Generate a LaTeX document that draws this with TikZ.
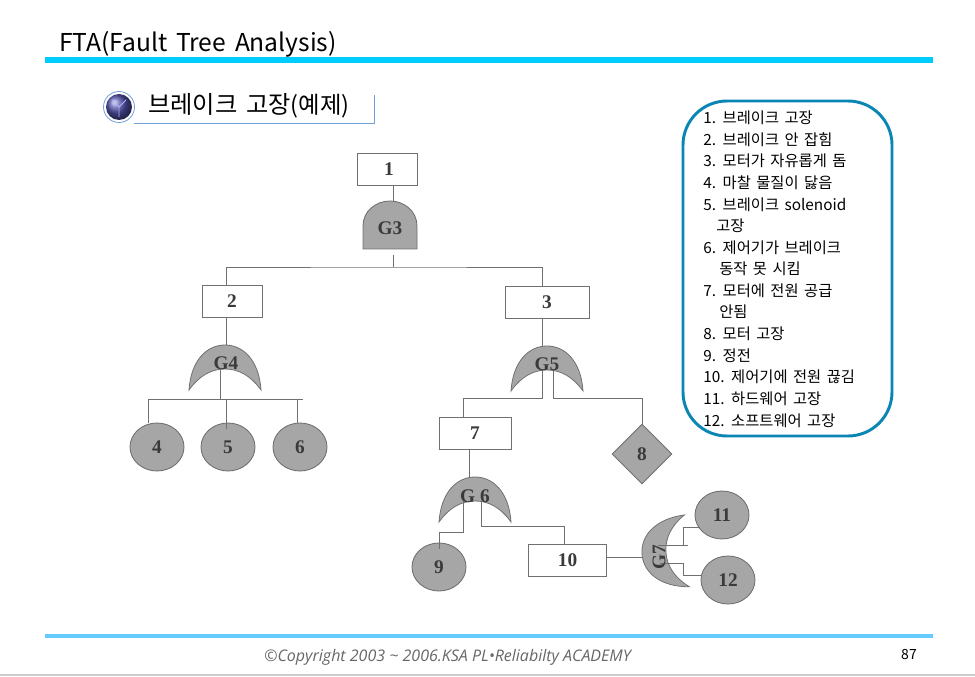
\documentclass[tikz,border=0pt]{standalone}
\usepackage{fontspec}
\setmainfont{Noto Sans CJK KR}[WordSpace=1.6]
\newfontfamily\labelfont{Liberation Serif}
\newfontfamily\footfont{Open Sans}
\usetikzlibrary{shapes.geometric}
\definecolor{gategray}{HTML}{A6A6A6}
\definecolor{wiregray}{HTML}{707070}
\definecolor{inkgray}{HTML}{3A3A3A}
\tikzset{
	wire/.style={draw=wiregray,line width=0.65pt},
	faultbox/.style={rectangle,draw=wiregray,line width=0.65pt,fill=white,text=inkgray,font=\labelfont\bfseries\fontsize{14.5}{16}\selectfont,minimum height=24pt,inner sep=0pt},
	faultcircle/.style={ellipse,draw=wiregray,line width=0.65pt,fill=gategray,text=inkgray,font=\labelfont\bfseries\fontsize{14.5}{16}\selectfont,minimum width=40.5pt,minimum height=36pt,inner sep=0pt},
	faultdiamond/.style={diamond,aspect=1,draw=wiregray,line width=0.65pt,fill=gategray,text=inkgray,font=\labelfont\bfseries\fontsize{14.5}{16}\selectfont,minimum width=45pt,minimum height=45pt,inner sep=0pt},
	gatename/.style={text=inkgray,font=\labelfont\bfseries\fontsize{14.5}{16}\selectfont,inner sep=0pt},
	legend/.style={anchor=west,inner sep=0pt,font=\fontsize{11.5}{13}\selectfont},
	orgate/.pic={
		\draw [wiregray,fill=gategray,line width=0.6pt] (-36,45) .. controls (-34,15) and (-18,0) .. (0,0) .. controls (18,0) and (34,15) .. (36,45) .. controls (26,31) and (14,24) .. (0,24) .. controls (-14,24) and (-26,31) .. (-36,45) -- cycle;
	}
}

\begin{document}
\begin{tikzpicture}[x=0.75pt,y=-0.75pt]
	\useasboundingbox (0,0) rectangle (975,677);

	\node [anchor=west,inner sep=0pt,font=\fontsize{18.45}{21}\selectfont] (title) at (59,44) {FTA(Fault Tree Analysis)};
	\fill [fill={rgb,255:red,0;green,204;blue,255}] (45,57) rectangle (933,63);
	\fill [fill={rgb,255:red,102;green,204;blue,255}] (45,634) rectangle (933,638);
	\draw [black!20,line width=0.8pt] (0,675) -- (975,675);

	\draw [color={rgb,255:red,111;green,160;blue,216},line width=0.6pt] (119,107) circle (15.5);
	\shade [ball color=blue!35!gray] (119,107) circle (13);
	\draw [white!70!blue,line width=0.7pt] (119,107) -- (112,100) (119,107) -- (126,100) (119,107) -- (119,117);
	\draw [color={rgb,255:red,111;green,160;blue,216},line width=0.6pt] (134,123) -- (374,123) -- (374,95);
	\node [anchor=west,inner sep=0pt,font=\fontsize{18.2}{20}\selectfont] (heading) at (148,106) {브레이크 고장{\fontsize{17.5}{19}\selectfont(예제)}};

	\draw [color={rgb,255:red,10;green,134;blue,180},line width=2.2pt,rounded corners=33pt] (683,101) rectangle (892,436);
	\foreach \x/\y/\txt [count=\i] in {703/118/1. 브레이크 고장,703/140/2. 브레이크 안 잡힘,703/161/3. 모터가 자유롭게 돔,703/183/4. 마찰 물질이 닳음,703/205/5. 브레이크 solenoid,716/226/고장,703/248/6. 제어기가 브레이크,719/269/동작 못 시킴,703/291/7. 모터에 전원 공급,719/312/안됨,703/334/8. 모터 고장,703/356/9. 정전,703/377/10. 제어기에 전원 끊김,703/399/11. 하드웨어 고장,703/421/12. 소프트웨어 고장}
		\node [legend] (line\i) at (\x,\y) {\txt};

	\node [anchor=west,inner sep=0pt,text=black!60,font=\footfont\itshape\fontsize{12}{14}\selectfont] (copyright) at (264,657.5) {©Copyright 2003 \textasciitilde{} 2006.KSA PL•Reliabilty ACADEMY};
	\node [inner sep=0pt,font=\fontsize{10.5}{12}\selectfont] (page) at (909,655) {87};

	\node [faultbox,minimum width=45pt] (b1) at (387,169) {\hspace{3pt}1};
	\node [faultbox,minimum width=45pt] (b2) at (232,301) {2};
	\node [faultbox,minimum width=63pt] (b3) at (547,302) {3};
	\node [faultbox,minimum width=54pt] (b7) at (475,433) {7};
	\node [faultbox,minimum width=58pt] (b10) at (567.5,560) {10};

	\node [faultcircle] (c4) at (157,447) {4};
	\node [faultcircle] (c5) at (228,447) {5};
	\node [faultcircle] (c6) at (300,447) {6};
	\node [faultcircle] (c9) at (439,567) {9};
	\node [faultcircle] (c11) at (722,515) {11};
	\node [faultcircle] (c12) at (728,580) {12};
	\node [faultdiamond] (d8) at (642,454) {8};

	\draw [wiregray,fill=gategray,line width=0.65pt] (363,249) -- (363,226) .. controls (363,211) and (376,201) .. (390,201) .. controls (404,201) and (417,211) .. (417,226) -- (417,249) -- cycle;
	\pic at (225,345) {orgate};
	\pic at (547,346) {orgate};
	\pic at (475,477) {orgate};
	\pic [rotate=94] at (642,554) {orgate};

	\coordinate (g3top) at (393,201);
	\coordinate (g3out) at (393,255);
	\coordinate (g4top) at (226,345);
	\coordinate (g4out) at (220,370);
	\coordinate (g5top) at (542,347);
	\coordinate (g5a) at (542,370);
	\coordinate (g5b) at (553,370);
	\coordinate (g6top) at (469,478);
	\coordinate (g6a) at (463,501);
	\coordinate (g6b) at (481,502);
	\coordinate (g7in) at (642,557);
	\coordinate (g7a) at (658,545);
	\coordinate (g7b) at (660,563);
	\coordinate (bar3) at (393,267);
	\coordinate (bar4) at (220,399);
	\coordinate (bar4a) at (148,399);
	\coordinate (bar4c) at (303,399);

	\draw [wire] (b1.south -| g3top) -- (g3top);
	\draw [wire] (g3out) -- (bar3);
	\draw [wire] (b2.north -| g4top) |- (bar3) -| (b3.north -| g5top);
	\draw [wire] (b2.south -| g4top) -- (g4top);
	\draw [wire] (b3.south -| g5top) -- (g5top);
	\draw [wire] (g4out) -- (bar4);
	\draw [wire] (bar4a) -- (bar4c);
	\draw [wire] (bar4a) -- (c4.north -| bar4a);
	\draw [wire] (226,399) -- (226,429);
	\draw [wire] (297,399) -- (297,423);
	\draw [wire] (g5a) -- (542,398) -| (463,417);
	\draw [wire] (g5b) -- (553,398) -| (d8.north);
	\draw [wire] (b7.south -| g6top) -- (g6top);
	\draw [wire] (g6a) -- (463,532) -| (439,549);
	\draw [wire] (g6b) -- (481,526) -| (b10.north -| 564,0);
	\draw [wire] (b10.east |- g7in) -- (g7in);
	\draw [wire] (g7a) -- (688,545);
	\draw [wire] (683,545) |- (700,527);
	\draw [wire] (g7b) -| (683,575) -- (702,575);

	\node [gatename] (g3) at (390,228) {G3};
	\node [gatename] (g4) at (226,363) {G4};
	\node [gatename] (g5) at (547,364) {G5};
	\node [gatename] (g6) at (475,496) {G 6};
	\node [gatename,rotate=90] (g7) at (659,557) {G7};
\end{tikzpicture}
\end{document}
